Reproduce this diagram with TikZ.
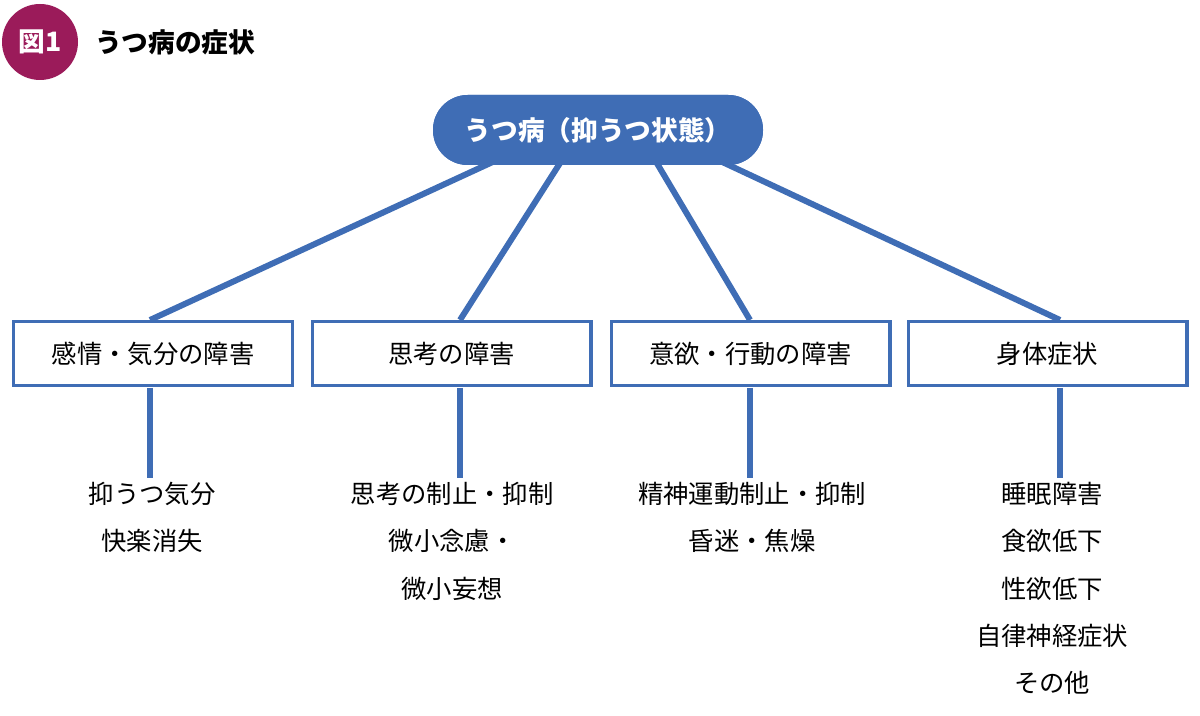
\documentclass[tikz,border=0pt]{standalone}
\usepackage{fontspec}
\setmainfont{Noto Sans CJK JP}
\newfontfamily\jpb{Noto Sans CJK JP}[FakeBold=0]
\definecolor{mblue}{HTML}{3F6DB5}
\definecolor{mag}{HTML}{9B1B5A}
\begin{document}
\begin{tikzpicture}[x=0.75pt,y=-0.75pt,
  box/.style={draw=mblue,line width=2.6pt,fill=white,minimum width=282*0.75pt-2.6pt,minimum height=67*0.75pt-2.6pt,inner sep=0pt,font=\fontsize{19}{22}\selectfont},
  conn/.style={mblue,line width=4.5pt},
  item/.style={align=center,font=\fontsize{19}{35.5}\selectfont,anchor=north,inner sep=0pt}]
\useasboundingbox (0,0) rectangle (1200,716);
\node[circle,fill=mag,minimum size=57pt,inner sep=0pt,text=white,font=\bfseries\fontsize{20}{22}\selectfont] (badge) at (40,42) {図1};
\node[anchor=west,font=\bfseries\fontsize{20}{22}\selectfont,inner sep=0pt] (title) at (95,42) {うつ病の症状};
\node[rounded corners=26pt,fill=mblue,text=white,minimum width=330*0.75pt,minimum height=70*0.75pt,inner sep=0pt,font=\bfseries\fontsize{20}{22}\selectfont] (top) at (598,130) {うつ病（抑うつ状態）};
\coordinate (t1) at (497,160); \coordinate (t2) at (562,160);
\coordinate (t3) at (655,160); \coordinate (t4) at (718,160);
\node[box] (b1) at (153,353.5) {感情・気分の障害};
\node[box] (b2) at (451.5,353.5) {思考の障害};
\node[box] (b3) at (750.5,353.5) {意欲・行動の障害};
\node[box] (b4) at (1047.5,353.5) {身体症状};
\begin{scope}[on background layer/.style={}]
\end{scope}
\draw[conn] (t1) -- (150,320);
\draw[conn] (t2) -- (460,320);
\draw[conn] (t3) -- (750,320);
\draw[conn] (t4) -- (1060,320);
\node[box] at (b1) {感情・気分の障害};
\node[box] at (b2) {思考の障害};
\node[box] at (b3) {意欲・行動の障害};
\node[box] at (b4) {身体症状};
\node[rounded corners=26pt,fill=mblue,text=white,minimum width=330*0.75pt,minimum height=70*0.75pt,inner sep=0pt,font=\bfseries\fontsize{20}{22}\selectfont] at (top) {うつ病（抑うつ状態）};
\coordinate (e1) at (150,478); \coordinate (e2) at (460,478);
\coordinate (e3) at (750,478); \coordinate (e4) at (1060,478);
\draw[conn] (150,388) -- (e1);
\draw[conn] (460,388) -- (e2);
\draw[conn] (750,388) -- (e3);
\draw[conn] (1060,388) -- (e4);
\node[item] (l1) at (152,482) {抑うつ気分\\快楽消失};
\node[item] (l2) at (452,482) {思考の制止・抑制\\微小念慮・\\微小妄想};
\node[item] (l3) at (752,482) {精神運動制止・抑制\\昏迷・焦燥};
\node[item] (l4) at (1052,482) {睡眠障害\\食欲低下\\性欲低下\\自律神経症状\\その他};
\end{tikzpicture}
\end{document}
